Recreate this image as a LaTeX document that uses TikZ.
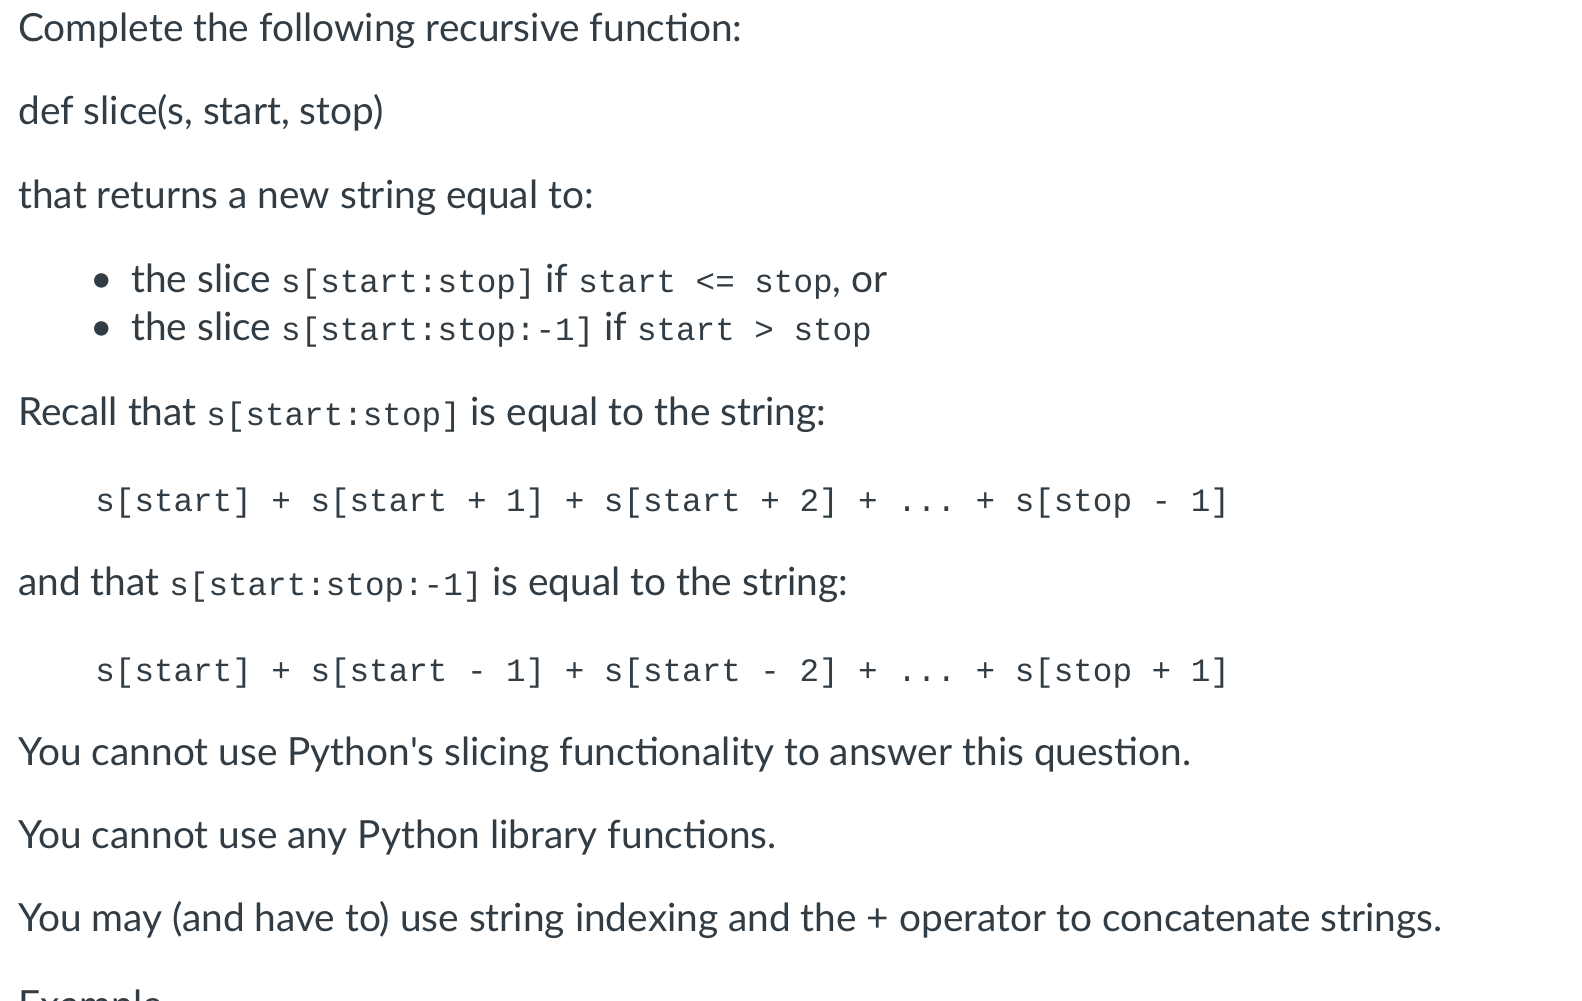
\documentclass[tikz,border=0pt]{standalone}
\usepackage{fontspec}
\setmainfont{Lato}
\setmonofont{Liberation Mono}
\definecolor{txt}{RGB}{50,60,68}
\newcommand{\mc}[1]{{\fontsize{16.3}{20}\ttfamily #1}}
\begin{document}
\begin{tikzpicture}[x=0.5pt,y=-0.5pt,
  line/.style={anchor=base west,inner sep=0,text=txt,font=\fontsize{19.4}{22}\selectfont},
  code/.style={anchor=base west,inner sep=0,text=txt,font=\fontsize{16.3}{20}\ttfamily}]
\clip (0,0) rectangle (1582,1000);
\fill[white] (0,0) rectangle (1582,1000);
\node[line] (l1) at (18,42) {Complete the following recursive function:};
\node[line] (l2) at (18,125) {def slice(s, start, stop)};
\node[line] (l3) at (18,208) {that returns a new string equal to:};
\node[line] (b1d) at (90,292) {•};
\node[line] (b1) at (131,292) {the slice \mc{s[start:stop]} if \mc{start <= stop}, or};
\node[line] (b2d) at (90,340) {•};
\node[line] (b2) at (131,340) {the slice \mc{s[start:stop:-1]} if \mc{start > stop}};
\node[line] (l4) at (18,425) {Recall that \mc{s[start:stop]} is equal to the string:};
\node[code] (c1) at (95,511) {s[start] + s[start + 1] + s[start + 2] + ... + s[stop - 1]};
\node[line] (l5) at (18,595) {and that \mc{s[start:stop:-1]} is equal to the string:};
\node[code] (c2) at (95,681) {s[start] + s[start - 1] + s[start - 2] + ... + s[stop + 1]};
\node[line] (l6) at (18,765) {You cannot use Python\textquotesingle s slicing functionality to answer this question.};
\node[line] (l7) at (18,848) {You cannot use any Python library functions.};
\node[line] (l8) at (18,931) {You may (and have to) use string indexing and the + operator to concatenate strings.};
\node[line] (l9) at (18,1018) {Example};
\end{tikzpicture}
\end{document}
